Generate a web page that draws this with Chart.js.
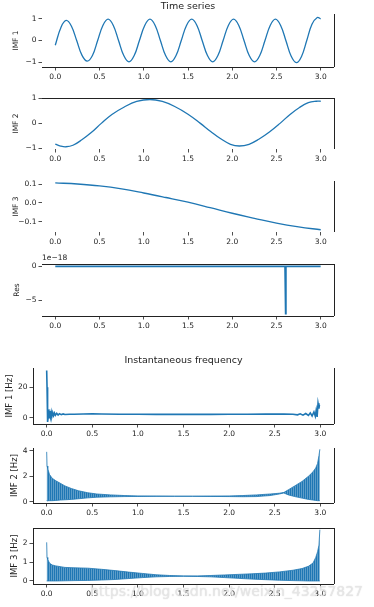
<!DOCTYPE html>
<html><head><meta charset="utf-8">
<script src="https://cdn.jsdelivr.net/npm/chart.js@4/dist/chart.umd.min.js"></script>
<style>
html,body{margin:0;padding:0;background:#fff;}
body{width:374px;height:607px;position:relative;overflow:hidden;}
canvas{position:absolute;left:0;}
#wm{position:absolute;left:90px;top:583px;font:14px/16px 'DejaVu Sans',sans-serif;color:rgba(236,236,236,0.75);white-space:nowrap;text-shadow:0 0 1px rgba(140,140,140,0.45);z-index:10;}
</style></head><body>
<div id="wm">https://blog.csdn.net/weixin_43257827</div>
<script>
// ---------- data ----------
const X_TICKS = [0, 0.5, 1, 1.5, 2, 2.5, 3];
const X_TICK_LABELS = ['0.0', '0.5', '1.0', '1.5', '2.0', '2.5', '3.0'];

const IMF1_T = [0.000,0.065,0.124,0.183,0.242,0.301,0.361,0.420,0.479,0.538,0.597,0.656,0.715,0.774,0.833,0.892,0.951,1.011,1.070,1.129,1.188,1.247,1.306,1.365,1.424,1.483,1.542,1.601,1.660,1.720,1.779,1.838,1.897,1.956,2.015,2.074,2.133,2.192,2.252,2.311,2.370,2.429,2.488,2.547,2.606,2.665,2.724,2.783,2.842,2.901,2.961,2.999];
const IMF1_V = [-0.22,0.62,0.93,0.66,0.00,-0.68,-0.96,-0.70,0.00,0.70,0.99,0.70,0.00,-0.70,-0.99,-0.70,0.00,0.70,0.99,0.70,0.00,-0.70,-0.99,-0.70,0.00,0.70,0.99,0.70,0.00,-0.70,-0.99,-0.70,0.00,0.70,0.99,0.70,0.00,-0.70,-0.99,-0.70,0.00,0.70,0.99,0.70,0.00,-0.72,-1.03,-0.74,0.00,0.75,1.07,1.00];

const IMF2_T = [0.00,0.06,0.12,0.20,0.30,0.41,0.52,0.64,0.78,0.92,1.07,1.21,1.35,1.50,1.64,1.76,1.87,1.98,2.08,2.19,2.30,2.42,2.54,2.65,2.76,2.86,2.95,3.00];
const IMF2_V = [-0.83,-0.91,-0.94,-0.88,-0.66,-0.36,0.00,0.36,0.66,0.88,0.96,0.88,0.68,0.37,0.00,-0.34,-0.62,-0.84,-0.91,-0.84,-0.64,-0.35,0.00,0.35,0.64,0.83,0.89,0.89];

const IMF3_T = [0.00,0.25,0.50,0.75,1.00,1.25,1.50,1.75,2.00,2.25,2.50,2.75,3.00];
const IMF3_V = [0.107,0.101,0.091,0.075,0.053,0.029,0.004,-0.025,-0.055,-0.082,-0.108,-0.128,-0.143];

const RES_T = [0.000,2.596,2.603,2.607,2.999];
const RES_V = [0,0,-6.94,0,0]; // units of 1e-18

const IF1_T = [0.000,0.004,0.008,0.012,0.018,0.024,0.030,0.036,0.042,0.050,0.058,0.066,0.075,0.085,0.095,0.110,0.125,0.140,0.160,0.180,0.200,0.250,0.300,0.400,0.500,0.600,0.800,1.000,1.200,1.500,1.800,2.000,2.200,2.400,2.600,2.700,2.750,2.780,2.810,2.840,2.870,2.890,2.910,2.930,2.945,2.955,2.965,2.975,2.985,2.990];
const IF1_V = [31.0,20.0,5.0,-2.8,1.0,5.5,0.0,4.5,0.8,3.8,1.2,3.4,1.4,3.1,1.6,2.9,1.8,2.7,2.0,2.5,2.1,2.3,2.35,2.5,2.6,2.5,2.35,2.3,2.25,2.2,2.25,2.3,2.35,2.4,2.4,2.3,1.9,2.6,1.7,2.8,1.5,3.2,1.2,3.8,1.0,5.0,0.5,9.5,6.0,8.5];

const IF2_T     = [0.000,0.004,0.012,0.03,0.06,0.10,0.15,0.20,0.27,0.35,0.45,0.55,0.70,0.85,1.00,1.20,1.40,1.60,1.80,2.00,2.15,2.30,2.45,2.55,2.60,2.65,2.72,2.80,2.87,2.92,2.95,2.97,2.985,2.995];
const IF2_UPPER = [3.9,2.8,2.6,2.15,1.85,1.65,1.45,1.25,1.05,0.87,0.72,0.62,0.55,0.50,0.47,0.46,0.45,0.45,0.46,0.47,0.50,0.55,0.62,0.68,0.74,0.95,1.25,1.6,2.0,2.35,2.65,3.0,3.6,4.1];
const IF2_LOWER = [0.1,0.08,0.1,0.1,0.1,0.12,0.15,0.17,0.2,0.25,0.32,0.37,0.40,0.42,0.43,0.44,0.44,0.44,0.43,0.42,0.41,0.42,0.5,0.62,0.7,0.55,0.42,0.3,0.2,0.15,0.12,0.1,0.1,0.1];

const IF3_T     = [0.000,0.004,0.012,0.03,0.06,0.10,0.20,0.30,0.45,0.60,0.75,0.90,1.05,1.20,1.35,1.50,1.65,1.80,1.95,2.10,2.25,2.40,2.55,2.70,2.80,2.87,2.92,2.95,2.97,2.985,2.995];
const IF3_UPPER = [2.05,1.25,1.15,0.95,0.85,0.8,0.72,0.7,0.68,0.62,0.55,0.47,0.40,0.33,0.29,0.27,0.27,0.29,0.32,0.35,0.38,0.42,0.48,0.57,0.66,0.78,0.95,1.25,1.55,1.9,2.72];
const IF3_LOWER = [0,0,0,0,0,0,0.01,0.02,0.03,0.05,0.08,0.13,0.18,0.22,0.24,0.25,0.24,0.22,0.18,0.14,0.1,0.07,0.04,0.02,0.01,0,0,0,0,0,0];

const Y_TICKS_IMF = [-1, 0, 1];            const Y_LABELS_IMF = ['\u22121', '0', '1'];
const Y_TICKS_IMF3 = [-0.1, 0, 0.1];       const Y_LABELS_IMF3 = ['\u22120.1', '0.0', '0.1'];
const Y_TICKS_RES = [-5, 0];               const Y_LABELS_RES = ['\u22125', '0'];
const Y_TICKS_IF1 = [0, 20];               const Y_LABELS_IF1 = ['0', '20'];
const Y_TICKS_IF2 = [0, 2, 4];             const Y_LABELS_IF2 = ['0', '2', '4'];
const Y_TICKS_IF3 = [0, 1, 2];             const Y_LABELS_IF3 = ['0', '1', '2'];

// ---------- drawing ----------
const FONT = "'DejaVu Sans', sans-serif";
const BLUE = '#1f77b4';
const INK = '#222222';
const pts = (t, v) => t.map((x, i) => ({x: x, y: v[i]}));

const panelDecor = {
  id: 'panelDecor',
  afterDraw(chart, args, o) {
    const {ctx, chartArea: a} = chart;
    ctx.save();
    ctx.strokeStyle = INK; ctx.lineWidth = 1;
    const px = v => Math.floor(v) + 0.5;
    (o.spines || []).forEach(s => {
      ctx.beginPath();
      if (s === 'left')   { ctx.moveTo(px(a.left), a.top); ctx.lineTo(px(a.left), a.bottom); }
      if (s === 'right')  { ctx.moveTo(px(a.right), a.top); ctx.lineTo(px(a.right), a.bottom); }
      if (s === 'top')    { ctx.moveTo(a.left, px(a.top)); ctx.lineTo(a.right, px(a.top)); }
      if (s === 'bottom') { ctx.moveTo(a.left, px(a.bottom)); ctx.lineTo(a.right, px(a.bottom)); }
      ctx.stroke();
    });
    ctx.fillStyle = INK;
    if (o.title) {
      ctx.font = '9.5px ' + FONT; ctx.textAlign = 'center'; ctx.textBaseline = 'middle';
      ctx.fillText(o.title, (a.left + a.right) / 2, a.top - 7.5);
    }
    if (o.offsetText) {
      ctx.font = '7.5px ' + FONT; ctx.textAlign = 'left'; ctx.textBaseline = 'middle';
      ctx.fillText(o.offsetText, a.left, a.top - 5.5);
    }
    ctx.restore();
  }
};

function makePanel(p) {
  const padTop = 14, padBottom = 18;
  const h = p.B - p.T + padTop + padBottom;
  const cv = document.createElement('canvas');
  cv.width = 374; cv.height = h;
  cv.style.width = '374px'; cv.style.height = h + 'px';
  cv.style.top = (p.T - padTop) + 'px';
  document.body.appendChild(cv);
  const ctx = cv.getContext('2d');
  const datasets = p.makeData(ctx);
  new Chart(ctx, {
    type: 'line',
    data: {datasets: datasets},
    options: {
      responsive: false, animation: false, devicePixelRatio: 1,
      layout: {padding: {top: padTop, left: 0, right: 374 - p.R, bottom: 0}},
      elements: {point: {radius: 0}},
      plugins: {legend: {display: false}, tooltip: {enabled: false},
                panelDecor: {spines: p.spines, title: p.title, offsetText: p.offsetText}},
      scales: {
        x: {
          type: 'linear', position: 'bottom', min: -0.15, max: 3.15,
          afterBuildTicks: s => { s.ticks = X_TICKS.map(v => ({value: v})); },
          afterFit: s => { s.height = padBottom; },
          ticks: {callback: (v, i) => X_TICK_LABELS[i], autoSkip: false, maxRotation: 0, minRotation: 0,
                  padding: 2, color: INK, font: {family: FONT, size: 7.5}},
          grid: {display: true, drawOnChartArea: false, drawTicks: true, tickLength: 3.5, color: INK, lineWidth: 0.8},
          border: {display: false}
        },
        y: {
          type: 'linear', position: 'left', min: p.yMin, max: p.yMax,
          afterBuildTicks: s => { s.ticks = p.yTicks.map(v => ({value: v})); },
          afterFit: s => { s.width = p.L; },
          ticks: {callback: (v, i) => p.yLabels[i], autoSkip: false, padding: 2, color: INK,
                  font: {family: FONT, size: 7.5}},
          grid: {display: true, drawOnChartArea: false, drawTicks: true, tickLength: 3.5, color: INK, lineWidth: 0.8},
          border: {display: false},
          title: {display: true, text: p.yLabel, color: INK, font: {family: FONT, size: p.labelSize},
                  padding: {top: p.labelPad, bottom: 0}}
        }
      }
    },
    plugins: [panelDecor]
  });
}

const lineSet = (t, v, w, tension) => [{data: pts(t, v), borderColor: BLUE, borderWidth: w, tension: tension, fill: false, pointRadius: 0}];
function bandSet(ctx, t, lo, hi) {
  const c = document.createElement('canvas'); c.width = 2; c.height = 1;
  const g = c.getContext('2d');
  g.fillStyle = BLUE; g.fillRect(0, 0, 1, 1);
  g.fillStyle = 'rgba(31,119,180,0.72)'; g.fillRect(1, 0, 1, 1);
  const pattern = ctx.createPattern(c, 'repeat');
  return [
    {data: pts(t, lo), borderColor: BLUE, borderWidth: 0.8, fill: false, pointRadius: 0},
    {data: pts(t, hi), borderColor: BLUE, borderWidth: 0.8, fill: '-1', backgroundColor: pattern, pointRadius: 0}
  ];
}

const PANELS = [
  {L: 42, R: 334, T: 14, B: 67, yMin: -1.23, yMax: 1.23, yTicks: Y_TICKS_IMF, yLabels: Y_LABELS_IMF,
   yLabel: 'IMF 1', labelSize: 7.5, labelPad: 11.5, spines: ['bottom', 'right'], title: 'Time series',
   makeData: () => lineSet(IMF1_T, IMF1_V, 1.3, 0.4)},
  {L: 42, R: 334, T: 98, B: 149, yMin: -1.03, yMax: 1.02, yTicks: Y_TICKS_IMF, yLabels: Y_LABELS_IMF,
   yLabel: 'IMF 2', labelSize: 7.5, labelPad: 11.5, spines: ['top', 'right'],
   makeData: () => lineSet(IMF2_T, IMF2_V, 1.3, 0.4)},
  {L: 42, R: 334, T: 181, B: 232, yMin: -0.155, yMax: 0.117, yTicks: Y_TICKS_IMF3, yLabels: Y_LABELS_IMF3,
   yLabel: 'IMF 3', labelSize: 7.5, labelPad: 11.5, spines: ['right'],
   makeData: () => lineSet(IMF3_T, IMF3_V, 1.3, 0.4)},
  {L: 42, R: 334, T: 264, B: 316, yMin: -7.29, yMax: 0.35, yTicks: Y_TICKS_RES, yLabels: Y_LABELS_RES,
   yLabel: 'Res', labelSize: 7.5, labelPad: 12.5, spines: ['top', 'bottom', 'right'], offsetText: '1e\u221218',
   makeData: () => lineSet(RES_T, RES_V, 1.6, 0)},
  {L: 33, R: 334, T: 368, B: 424, yMin: -4.1, yMax: 32.7, yTicks: Y_TICKS_IF1, yLabels: Y_LABELS_IF1,
   yLabel: 'IMF 1 [Hz]', labelSize: 8.5, labelPad: 5, spines: ['left', 'bottom', 'right'], title: 'Instantaneous frequency',
   makeData: () => lineSet(IF1_T, IF1_V, 1.6, 0)},
  {L: 33, R: 334, T: 448, B: 503, yMin: -0.08, yMax: 4.2, yTicks: Y_TICKS_IF2, yLabels: Y_LABELS_IF2,
   yLabel: 'IMF 2 [Hz]', labelSize: 8.5, labelPad: 9.5, spines: ['left', 'bottom', 'right'],
   makeData: ctx => bandSet(ctx, IF2_T, IF2_LOWER, IF2_UPPER)},
  {L: 33, R: 334, T: 528, B: 584, yMin: -0.16, yMax: 2.81, yTicks: Y_TICKS_IF3, yLabels: Y_LABELS_IF3,
   yLabel: 'IMF 3 [Hz]', labelSize: 8.5, labelPad: 9.5, spines: ['left', 'bottom', 'right', 'top'],
   makeData: ctx => bandSet(ctx, IF3_T, IF3_LOWER, IF3_UPPER)}
];

PANELS.forEach(makePanel);
</script>
</body></html>
